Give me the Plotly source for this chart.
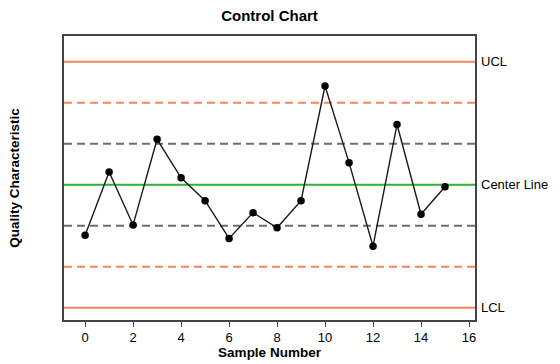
import plotly.graph_objects as go

samples = list(range(16))
values = [-1.23, 0.31, -0.98, 1.11, 0.17, -0.39, -1.31, -0.68, -1.05, -0.39,
          2.41, 0.54, -1.50, 1.47, -0.72, -0.05]

center = 0.0
sigma = 1.0
limit_levels = [3, 2, 1, 0, -1, -2, -3]
limit_colors = ["#F7845E", "#F7845E", "#6E6E6E", "#2DB32D", "#6E6E6E", "#F7845E", "#F7845E"]
limit_dash = ["solid", "8px,5px", "8px,5px", "solid", "8px,5px", "8px,5px", "solid"]
label_levels = [3, 0, -3]
label_texts = ["UCL", "Center Line", "LCL"]

fig = go.Figure()

for lv, col, dsh in zip(limit_levels, limit_colors, limit_dash):
    fig.add_shape(type="line", xref="paper", x0=0, x1=1, yref="y",
                  y0=center + lv * sigma, y1=center + lv * sigma,
                  line=dict(color=col, width=1.9, dash=dsh), layer="below")

fig.add_trace(go.Scatter(x=samples, y=values, mode="lines+markers",
                         line=dict(color="#1a1a1a", width=1.4),
                         marker=dict(color="black", size=7.5),
                         showlegend=False, cliponaxis=False))

for lv, txt in zip(label_levels, label_texts):
    fig.add_annotation(xref="paper", x=1.0, xanchor="left", xshift=4,
                       y=center + lv * sigma, yref="y", text=txt, showarrow=False,
                       font=dict(size=13, color="black"))

fig.update_layout(
    width=560, height=364,
    margin=dict(l=64, r=85, t=36, b=44, autoexpand=False),
    paper_bgcolor="white", plot_bgcolor="white",
    font=dict(family="Liberation Sans, Arial, sans-serif", color="black"),
    title=dict(text="<b>Control Chart</b>", x=0.5, xref="paper", xanchor="center",
               y=1 - 16 / 364, yref="container", yanchor="middle", font=dict(size=15),
               automargin=False),
)
fig.update_xaxes(range=[-0.88, 16.25], tickmode="linear", tick0=0, dtick=2,
                 ticks="outside", ticklen=5, tickcolor="#444", automargin=False,
                 showline=True, linecolor="#444", linewidth=1.5, mirror=True,
                 showgrid=False, zeroline=False, tickfont=dict(size=13),
                 title=dict(text="<b>Sample Number</b>", font=dict(size=13.5), standoff=1))
fig.update_yaxes(range=[-3.3, 3.63], showticklabels=False, ticks="", automargin=False,
                 showline=True, linecolor="#444", linewidth=1.5, mirror=True,
                 showgrid=False, zeroline=False,
                 title=dict(text="<b>Quality Characteristic</b>", font=dict(size=13.5), standoff=40))

fig.write_html("out.html", config={"displayModeBar": False},
               post_script="document.body.style.margin='0';document.body.style.overflow='hidden';")
